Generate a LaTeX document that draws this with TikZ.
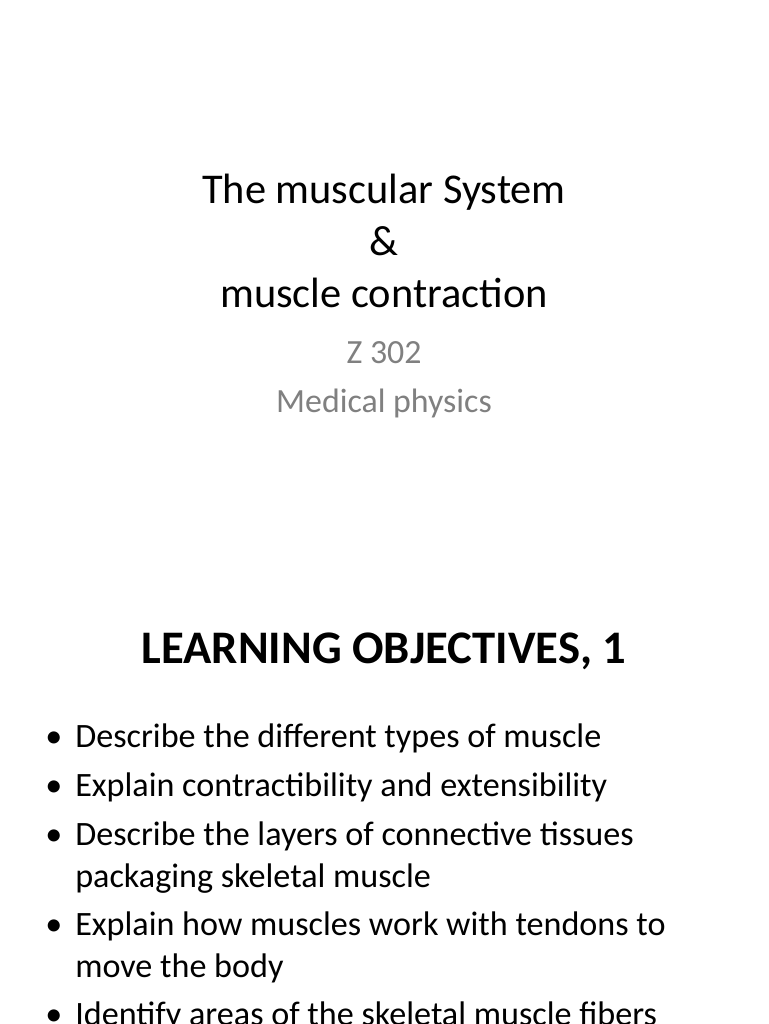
\documentclass[tikz,border=0pt]{standalone}
\usepackage{fontspec}
\setmainfont{Carlito}
\begin{document}
\begin{tikzpicture}[x=0.75pt,y=-0.75pt,
  title/.style={anchor=base,font=\fontsize{31.8}{36}\selectfont,text=black},
  sub/.style={anchor=base,font=\fontsize{25.4}{30}\selectfont,text=black!50},
  head/.style={anchor=base,font=\bfseries\fontsize{35}{40}\selectfont},
  item/.style={anchor=base west,font=\fontsize{25.6}{30}\selectfont,inner sep=0pt},
  dot/.style={anchor=base west,font=\fontsize{25.6}{30}\selectfont,inner sep=0pt}]
\clip (0,0) rectangle (768,1024);
\fill[white] (0,0) rectangle (768,1024);
\node[title] (t1) at (384,203) {The muscular System};
\node[title] (t2) at (384,255) {\&};
\node[title] (t3) at (384,307) {muscle contraction};
\node[sub] (s1) at (384,363) {Z 302};
\node[sub] (s2) at (384,412) {Medical physics};
\node[head] (h) at (384,663) {LEARNING OBJECTIVES, 1};
\foreach \y/\t [count=\i] in {747/Describe the different types of muscle,
  796/Explain contractibility and extensibility,
  845/Describe the layers of connective tissues,
  935/Explain how muscles work with tendons to,
  1025/Identify areas of the skeletal muscle fibers}{
  \node[dot] (b\i) at (45,\y) {•};
  \node[item] (i\i) at (75,\y) {\t};
}
\node[item] (c1) at (75,887) {packaging skeletal muscle};
\node[item] (c2) at (75,977) {move the body};
\end{tikzpicture}
\end{document}
